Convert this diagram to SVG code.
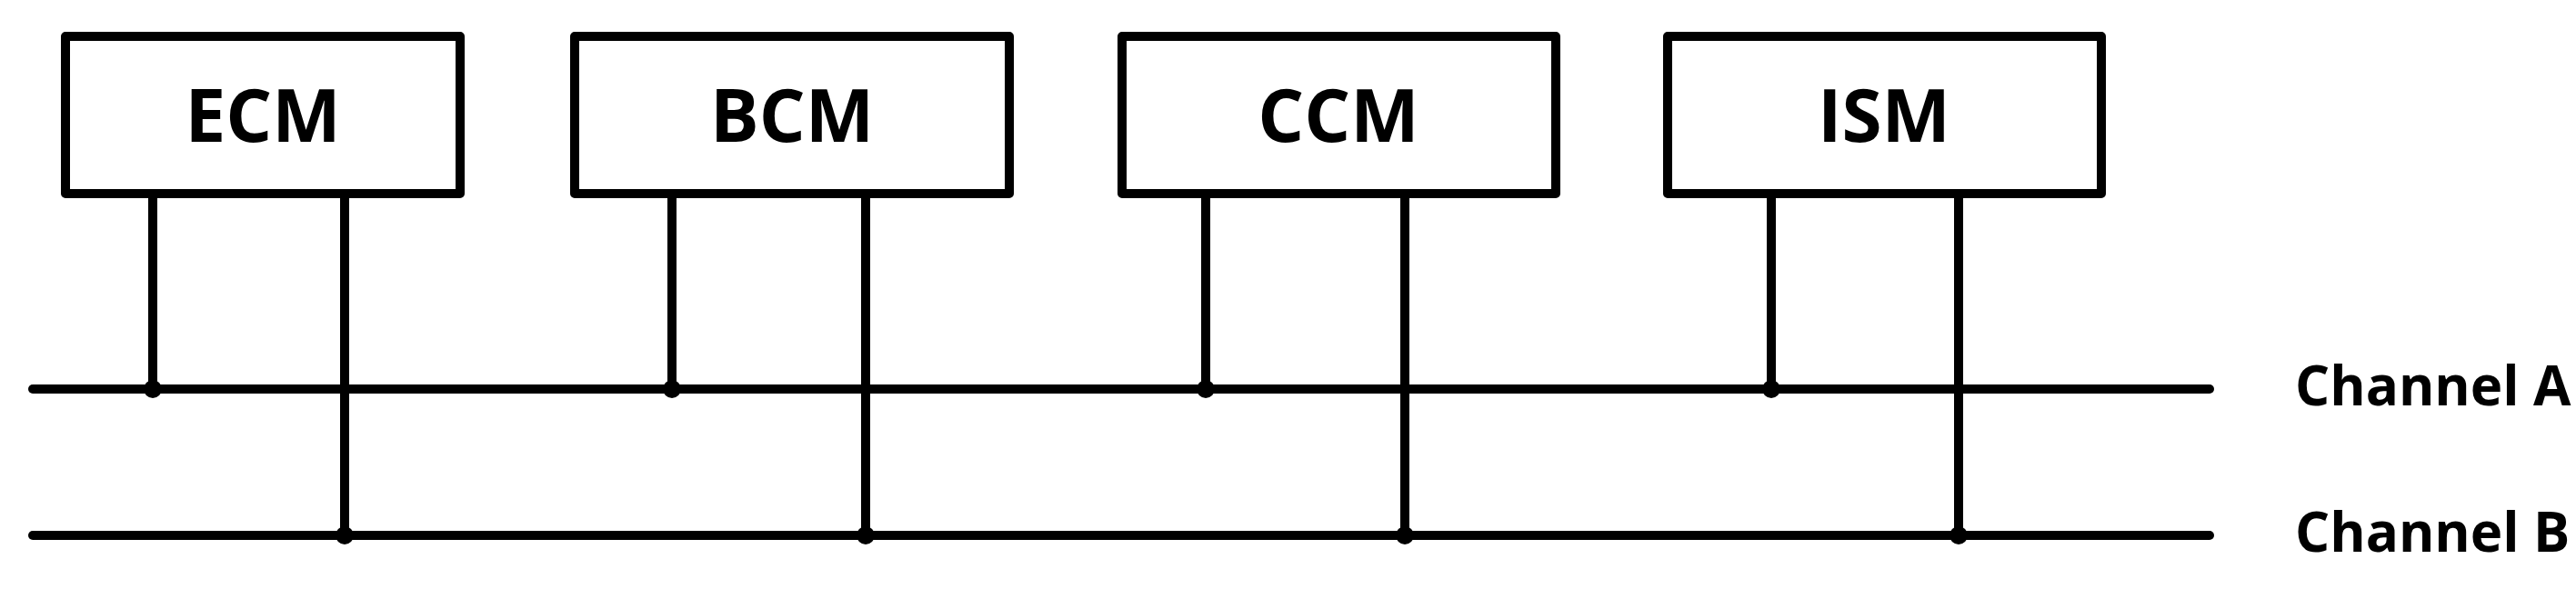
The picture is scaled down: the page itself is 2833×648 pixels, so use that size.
<svg xmlns="http://www.w3.org/2000/svg" width="2833" height="648" viewBox="0 0 2833 648">
<style>
.box{fill:#fff;stroke:#000;stroke-width:10;stroke-linejoin:round}
.w{stroke:#000;stroke-width:10;stroke-linecap:round;fill:none}
.lbl{font-family:"Open Sans","DejaVu Sans",sans-serif;font-weight:bold;font-size:80px;text-anchor:middle}
.ch{font-family:"Open Sans","DejaVu Sans",sans-serif;font-weight:bold;font-size:60px}
</style>
<rect width="2833" height="648" fill="#fff"/>
<g id="connectors">
<line class="w" x1="36" y1="428" x2="2430" y2="428"/>
<line class="w" x1="36" y1="589" x2="2430" y2="589"/>
<path class="w" d="M168 213V428M379 213V589M739 213V428M952 213V589M1326 213V428M1545 213V589M1948 213V428M2154 213V589"/>
<g fill="#000">
<circle cx="168" cy="428" r="10"/><circle cx="379" cy="589" r="10"/>
<circle cx="739" cy="428" r="10"/><circle cx="952" cy="589" r="10"/>
<circle cx="1326" cy="428" r="10"/><circle cx="1545" cy="589" r="10"/>
<circle cx="1948" cy="428" r="10"/><circle cx="2154" cy="589" r="10"/>
</g>
</g>
<g id="ECM"><rect class="box" x="72" y="40" width="434" height="173"/><text class="lbl" x="289" y="156">ECM</text></g>
<g id="BCM"><rect class="box" x="632" y="40" width="478" height="173"/><text class="lbl" x="871" y="156">BCM</text></g>
<g id="CCM"><rect class="box" x="1234" y="40" width="477" height="173"/><text class="lbl" x="1472" y="156">CCM</text></g>
<g id="ISM"><rect class="box" x="1834" y="40" width="477" height="173"/><text class="lbl" x="2072" y="156">ISM</text></g>
<g id="channels">
<text class="ch" x="2524" y="446">Channel A</text>
<text class="ch" x="2524" y="607">Channel B</text>
</g>
</svg>
